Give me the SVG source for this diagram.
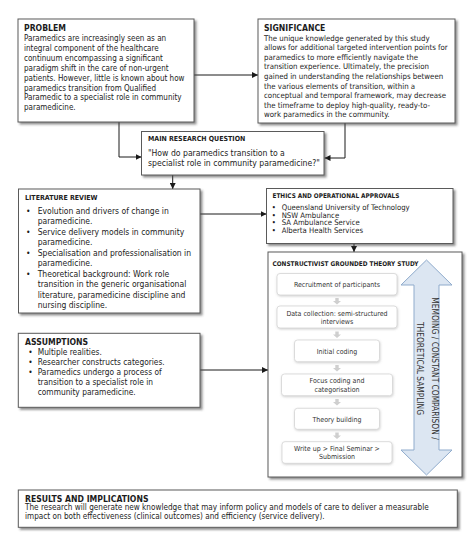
<svg xmlns="http://www.w3.org/2000/svg" width="474" height="535" viewBox="0 0 474 535">
<defs>
<style>
text{font-family:"DejaVu Sans Condensed","DejaVu Sans",sans-serif;font-stretch:semi-condensed;fill:#1c1c1c}
.box{fill:#fff;stroke:#5a5a5a;stroke-width:1;filter:url(#sh)}
.step{fill:#fff;stroke:#d4d4d4;stroke-width:0.8;filter:url(#sh2)}
.h1{font-weight:bold;font-size:8.6px}
.h2{font-weight:bold;font-size:7px}
.h3{font-weight:bold;font-size:6.4px}
.st{font-size:7px;text-anchor:middle;fill:#333}
.conn{fill:none;stroke:#1a1a1a;stroke-width:1;marker-end:url(#ah)}
.ga{fill:#cfcfcf}
.rot{font-size:8.3px;text-anchor:middle;fill:#333}
</style>
<filter id="sh" x="-10%" y="-10%" width="120%" height="130%">
<feDropShadow dx="2" dy="2" stdDeviation="1" flood-color="#444" flood-opacity="0.6"/>
</filter>
<filter id="sh2" x="-10%" y="-20%" width="120%" height="150%">
<feDropShadow dx="0.5" dy="1" stdDeviation="0.8" flood-color="#888" flood-opacity="0.4"/>
</filter>
<marker id="ah" markerWidth="6" markerHeight="6" refX="6" refY="3" orient="auto" markerUnits="userSpaceOnUse">
<path d="M0,0 L6,3 L0,6 z" fill="#1a1a1a"/>
</marker>
</defs>
<rect width="474" height="535" fill="#fff"/>

<g id="connectors">
<path class="conn" d="M194,75 H258"/>
<path class="conn" d="M119,122 V157 H141.5"/>
<path class="conn" d="M345,123 V158 H324.5"/>
<path class="conn" d="M172.7,175 V189"/>
<path class="conn" d="M200,214 H266.5"/>
<path class="conn" d="M354,243.5 V252"/>
<path class="conn" d="M200,370 H268"/>
</g>

<g id="problem">
<rect class="box" x="18" y="19" width="176" height="103"/>
<text class="h1" x="24" y="31">PROBLEM</text>
<text font-size="8px" x="24">
<tspan x="24" y="41">Paramedics are increasingly seen as an</tspan>
<tspan x="24" y="50.9">integral component of the healthcare</tspan>
<tspan x="24" y="60.8">continuum encompassing a significant</tspan>
<tspan x="24" y="70.7">paradigm shift in the care of non-urgent</tspan>
<tspan x="24" y="80.6">patients. However, little is known about how</tspan>
<tspan x="24" y="90.5">paramedics transition from Qualified</tspan>
<tspan x="24" y="100.4">Paramedic to a specialist role in community</tspan>
<tspan x="24" y="110.3">paramedicine.</tspan>
</text>
</g>

<g id="significance">
<rect class="box" x="258" y="19" width="197" height="104"/>
<text class="h1" x="264" y="31">SIGNIFICANCE</text>
<text font-size="7.8px">
<tspan x="264" y="40.5">The unique knowledge generated by this study</tspan>
<tspan x="264" y="50.1">allows for additional targeted intervention points for</tspan>
<tspan x="264" y="59.7">paramedics to more efficiently navigate the</tspan>
<tspan x="264" y="69.3">transition experience. Ultimately, the precision</tspan>
<tspan x="264" y="78.9">gained in understanding the relationships between</tspan>
<tspan x="264" y="88.5">the various elements of transition, within a</tspan>
<tspan x="264" y="98.1">conceptual and temporal framework, may decrease</tspan>
<tspan x="264" y="107.7">the timeframe to deploy high-quality, ready-to-</tspan>
<tspan x="264" y="117.3">work paramedics in the community.</tspan>
</text>
</g>

<g id="main-research-question">
<rect class="box" x="141.5" y="131.5" width="182.5" height="43.5"/>
<text class="h2" x="148" y="141">MAIN RESEARCH QUESTION</text>
<text font-size="8.6px">
<tspan x="148" y="156.3">"How do paramedics transition to a</tspan>
<tspan x="148" y="166.3">specialist role in community paramedicine?"</tspan>
</text>
</g>

<g id="literature-review">
<rect class="box" x="18.5" y="189" width="181.5" height="124"/>
<text class="h2" x="25" y="199.8">LITERATURE REVIEW</text>
<text font-size="8.5px">
<tspan x="26" y="213.7">•</tspan><tspan x="37.7" y="213.7">Evolution and drivers of change in</tspan>
<tspan x="37.7" y="224.2">paramedicine.</tspan>
<tspan x="26" y="234.7">•</tspan><tspan x="37.7" y="234.7">Service delivery models in community</tspan>
<tspan x="37.7" y="245.2">paramedicine.</tspan>
<tspan x="26" y="255.7">•</tspan><tspan x="37.7" y="255.7">Specialisation and professionalisation in</tspan>
<tspan x="37.7" y="266.2">paramedicine.</tspan>
<tspan x="26" y="276.7">•</tspan><tspan x="37.7" y="276.7">Theoretical background: Work role</tspan>
<tspan x="37.7" y="287.2">transition in the generic organisational</tspan>
<tspan x="37.7" y="297.7">literature, paramedicine discipline and</tspan>
<tspan x="37.7" y="308.2">nursing discipline.</tspan>
</text>
</g>

<g id="ethics">
<rect class="box" x="266.5" y="188.5" width="186.5" height="55"/>
<text class="h3" x="272.5" y="197.5">ETHICS AND OPERATIONAL APPROVALS</text>
<text font-size="7.7px">
<tspan x="271.7" y="209.8">•</tspan><tspan x="281.7" y="209.8">Queensland University of Technology</tspan>
<tspan x="271.7" y="217.5">•</tspan><tspan x="281.7" y="217.5">NSW Ambulance</tspan>
<tspan x="271.7" y="225.2">•</tspan><tspan x="281.7" y="225.2">SA Ambulance Service</tspan>
<tspan x="271.7" y="232.9">•</tspan><tspan x="281.7" y="232.9">Alberta Health Services</tspan>
</text>
</g>

<g id="assumptions">
<rect class="box" x="18.3" y="333.3" width="181.7" height="74"/>
<text class="h1" x="25" y="345.3">ASSUMPTIONS</text>
<text font-size="8.3px">
<tspan x="28.3" y="355.3">•</tspan><tspan x="37.7" y="355.3">Multiple realities.</tspan>
<tspan x="28.3" y="365.1">•</tspan><tspan x="37.7" y="365.1">Researcher constructs categories.</tspan>
<tspan x="28.3" y="374.9">•</tspan><tspan x="37.7" y="374.9">Paramedics undergo a process of</tspan>
<tspan x="37.7" y="384.7">transition to a specialist role in</tspan>
<tspan x="37.7" y="394.5">community paramedicine.</tspan>
</text>
</g>

<g id="grounded-theory-study">
<rect class="box" x="268" y="252" width="194" height="225"/>
<polygon points="426.5,260 452,285 439,285 439,450 452,450 426.5,475 401,450 414,450 414,285 401,285" fill="#dce6f2" stroke="#8fabcc" stroke-width="1"/>
<text class="h3" x="272.5" y="266.3">CONSTRUCTIVIST GROUNDED THEORY STUDY</text>
<text class="rot" transform="translate(431.5,368.5) rotate(90)" x="0" y="0">MEMOING / CONSTANT COMPARISON /</text>
<text class="rot" transform="translate(416.7,368.5) rotate(90)" x="0" y="0">THEORETICAL SAMPLING</text>
</g>

<g id="step-recruitment">
<rect class="step" x="277" y="273.5" width="120" height="21.5" rx="3"/>
<text class="st" x="337" y="287">Recruitment of participants</text>
</g>
<g id="step-data-collection">
<rect class="step" x="277" y="306" width="120" height="22" rx="3"/>
<text class="st"><tspan x="337" y="315.5">Data collection: semi-structured</tspan><tspan x="337" y="323.8">interviews</tspan></text>
</g>
<g id="step-initial-coding">
<rect class="step" x="294.5" y="340" width="85" height="21.7" rx="3"/>
<text class="st" x="337" y="353.8">Initial coding</text>
</g>
<g id="step-focus-coding">
<rect class="step" x="281.5" y="374" width="111" height="21.7" rx="3"/>
<text class="st"><tspan x="337" y="383.3">Focus coding and</tspan><tspan x="337" y="391.6">categorisation</tspan></text>
</g>
<g id="step-theory-building">
<rect class="step" x="294.5" y="408.3" width="85" height="21" rx="3"/>
<text class="st" x="337" y="421.6">Theory building</text>
</g>
<g id="step-write-up">
<rect class="step" x="282" y="441.7" width="110" height="21.6" rx="3"/>
<text class="st"><tspan x="337" y="451.1">Write up &gt; Final Seminar &gt;</tspan><tspan x="337" y="459.2">Submission</tspan></text>
</g>

<g id="step-arrows">
<polygon class="ga" points="335.3,298 338.7,298 338.7,301 341,301 337,304.5 333,301 335.3,301"/>
<polygon class="ga" points="335.3,331.5 338.7,331.5 338.7,334.5 341,334.5 337,338 333,334.5 335.3,334.5"/>
<polygon class="ga" points="335.3,365 338.7,365 338.7,368 341,368 337,371.5 333,368 335.3,368"/>
<polygon class="ga" points="335.3,399 338.7,399 338.7,402 341,402 337,405.5 333,402 335.3,402"/>
<polygon class="ga" points="335.3,432.5 338.7,432.5 338.7,435.5 341,435.5 337,439 333,435.5 335.3,435.5"/>
</g>

<g id="results">
<rect class="box" x="18.3" y="490" width="439" height="37.3"/>
<text class="h1" x="25" y="501.5" font-size="8.8px">RESULTS AND IMPLICATIONS</text>
<text font-size="8.15px">
<tspan x="25" y="510">The research will generate new knowledge that may inform policy and models of care to deliver a measurable</tspan>
<tspan x="25" y="519">impact on both effectiveness (clinical outcomes) and efficiency (service delivery).</tspan>
</text>
</g>
</svg>
